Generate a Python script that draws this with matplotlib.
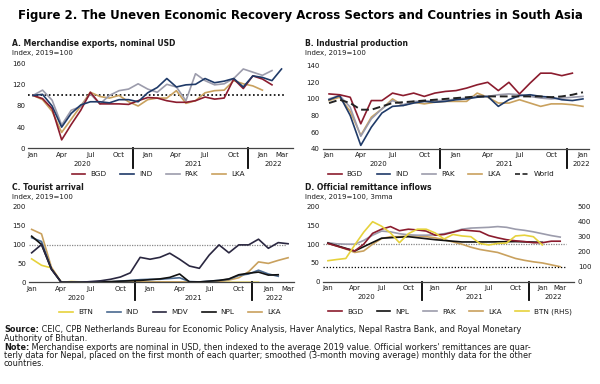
import numpy as np
import matplotlib
matplotlib.use('Agg')
import matplotlib.pyplot as plt
from matplotlib.lines import Line2D

plt.rcParams['font.family'] = 'DejaVu Sans'

# ---------------------------------------------------------------------------
# data, monthly from Jan 2020
# ---------------------------------------------------------------------------
# A. Merchandise exports, nominal USD (Index, 2019=100)
exp_bgd = [100, 94, 75, 16, 45, 72, 106, 84, 84, 84, 83, 90, 96, 95, 90, 87, 87, 90, 97, 93,
           95, 131, 113, 137, 131, 120]
exp_ind = [100, 102, 80, 40, 66, 82, 88, 88, 86, 92, 92, 88, 105, 115, 132, 116, 120, 121, 132, 124,
           127, 132, 116, 137, 134, 128, 150]
exp_pak = [100, 110, 91, 44, 72, 79, 103, 84, 100, 109, 112, 122, 112, 106, 121, 116, 90, 141, 128, 120,
           122, 132, 150, 144, 138, 147]
exp_lka = [100, 92, 70, 30, 55, 80, 106, 98, 95, 100, 88, 80, 92, 95, 95, 109, 85, 90, 105, 109,
           110, 128, 122, 118, 110]

# B. Industrial production (Index, 2019=100)
ip_bgd = [106, 105, 102, 70, 98, 98, 107, 104, 107, 103, 107, 109, 110, 113, 117, 120, 110, 120, 106, 119,
          131, 131, 128, 131]
ip_ind = [99, 104, 80, 44, 66, 83, 91, 92, 95, 97, 96, 97, 99, 100, 102, 103, 91, 99, 104, 105,
          103, 102, 99, 98, 100]
ip_pak = [100, 104, 90, 55, 76, 88, 98, 93, 97, 97, 98, 98, 100, 101, 103, 103, 105, 106, 105, 103,
          101, 100, 101, 102, 103]
ip_lka = [98, 102, 85, 56, 78, 88, 100, 92, 96, 94, 96, 97, 97, 97, 107, 102, 95, 95, 99, 95,
          91, 94, 94, 93, 91]
ip_world = [95, 99, 95, 87, 87, 91, 95, 96, 97, 98, 99, 100, 101, 102, 103, 103, 103, 103, 103, 103,
            103, 102, 103, 105, 108]

# C. Tourist arrival (Index, 2019=100)
tour_btn = [62, 45, 38, 0, 2, 1, 0, 0, 0, 0, 0, 0, 0, 0, 0, 0, 0, 0, 0, 0,
            0, 0, 0, 0]
tour_ind = [118, 108, 35, 0, 0, 0, 0, 1, 1, 3, 5, 7, 8, 8, 10, 12, 2, 1, 3, 5,
            8, 18, 22, 32, 22, 16]
tour_mdv = [78, 100, 35, 0, 0, 0, 2, 4, 8, 14, 25, 66, 61, 66, 77, 61, 43, 37, 72, 99,
            78, 99, 99, 114, 90, 105, 102]
tour_npl = [122, 100, 35, 0, 0, 0, 0, 1, 2, 3, 4, 5, 7, 9, 13, 22, 1, 1, 3, 5,
            9, 20, 24, 27, 19, 20]
tour_lka = [140, 128, 40, 0, 0, 0, 0, 0, 0, 0, 0, 1, 1, 1, 1, 1, 1, 1, 1, 2,
            6, 12, 28, 54, 50, 58, 65]

# D. Official remittance inflows (Index, 2019=100, 3mma)
rem_bgd = [102, 95, 88, 82, 100, 129, 140, 147, 136, 140, 138, 135, 124, 126, 132, 138, 136, 134, 123, 117,
           112, 109, 107, 104, 104, 108, 108]
rem_npl_month = [0, 3, 6, 9, 12, 15, 18, 21, 24]   # quarterly, first month of quarter
rem_npl = [103, 82, 116, 120, 112, 106, 106, 107, 105]
rem_pak = [104, 101, 100, 100, 110, 124, 135, 133, 128, 125, 124, 124, 125, 128, 133, 140, 143, 144, 145, 147,
           145, 140, 137, 133, 128, 123, 119]
rem_lka = [102, 95, 87, 78, 82, 100, 115, 120, 120, 122, 122, 120, 117, 112, 106, 100, 92, 86, 82, 78,
           70, 62, 57, 53, 50, 45, 40]
rem_btn = [140, 148, 155, 245, 330, 400, 370, 325, 260, 320, 350, 350, 325, 285, 315, 305, 300, 255, 245, 255,
           258, 305, 310, 300, 245]   # RHS

month_lbl = ['Jan', 'Apr', 'Jul', 'Oct'] * 3

# colours
C_BGD = '#8B1C2E'
C_IND = '#1F3A68'
C_PAK = '#9C9CAC'
C_LKA = '#C9A15E'
C_BTN = '#E6D23C'
C_MDV = '#2A2740'
C_NPL = '#111111'
C_IND_T = '#4A6A90'
TXT = '#1a1a1a'

LW = 1.2
W, H = 600., 384.

fig = plt.figure(figsize=(6.0, 3.84), dpi=100)
fig.patch.set_facecolor('white')


def px_axes(l, t, r, b):
    return fig.add_axes([l / W, 1 - b / H, (r - l) / W, (b - t) / H])


def style(ax, xlim, ylim, yticks, xticks, xlabels, years, seps, sep_len):
    ax.set_xlim(*xlim)
    ax.set_ylim(*ylim)
    for s in ['top', 'left', 'right']:
        ax.spines[s].set_visible(False)
    ax.spines['bottom'].set_color('#444444')
    ax.spines['bottom'].set_linewidth(0.9)
    ax.set_yticks(yticks)
    ax.set_xticks(xticks)
    ax.set_xticklabels(xlabels)
    ax.tick_params(axis='both', length=0, labelsize=5, colors=TXT, pad=2)
    ax.tick_params(axis='x', pad=2.5)
    ax.patch.set_alpha(0)
    for yx, yl in years:
        ax.annotate(yl, xy=(yx, 0), xycoords=('data', 'axes fraction'),
                    xytext=(0, -11), textcoords='offset points',
                    ha='center', va='center', fontsize=5, color=TXT)
    for sx in seps:
        ax.axvline(sx, ymin=-sep_len, ymax=0, color='black', lw=1.3, clip_on=False)


def panel_title(x, y, title, sub):
    fig.text(x / W, 1 - y / H, title, fontsize=5.5, fontweight='bold', color=TXT, va='center')
    fig.text(x / W, 1 - (y + 10.5) / H, sub, fontsize=5, color=TXT, va='center')


def legend(ax, items, cx, cy):
    handles = [Line2D([0], [0], color=c, lw=LW, ls=ls) for _, c, ls in items]
    labels = [n for n, _, _ in items]
    ax.legend(handles, labels, loc='center', bbox_to_anchor=(cx / W, 1 - cy / H),
              bbox_transform=fig.transFigure, ncol=len(items), frameon=False,
              fontsize=5.2, handlelength=1.9, handletextpad=0.7, columnspacing=1.9,
              labelcolor=TXT)


# title
fig.text(0.5, 1 - 15 / H, 'Figure 2. The Uneven Economic Recovery Across Sectors and Countries in South Asia',
         ha='center', va='center', fontsize=8.5, fontweight='bold', color='black')

# ---------------------------------------------------------------- panel A
axA = px_axes(28.2, 63.7, 293, 148.3)
axA.plot(np.arange(len(exp_lka)), exp_lka, color=C_LKA, lw=LW)
axA.plot(np.arange(len(exp_pak)), exp_pak, color=C_PAK, lw=LW)
axA.plot(np.arange(len(exp_bgd)), exp_bgd, color=C_BGD, lw=LW)
axA.plot(np.arange(len(exp_ind)), exp_ind, color=C_IND, lw=LW)
axA.axhline(100, xmax=0.97, color='black', lw=1.2, ls=(0, (1, 1.5)), zorder=0)
style(axA, (-0.5, 27.2), (0, 160), [0, 40, 80, 120, 160],
      [0, 3, 6, 9, 12, 15, 18, 21, 24, 26], month_lbl[:9] + ['Mar'],
      [(5.2, '2020'), (16.8, '2021'), (25.1, '2022')], [10.5, 22.5], 0.23)
panel_title(12, 43, 'A. Merchandise exports, nominal USD', 'Index, 2019=100')
legend(axA, [('BGD', C_BGD, '-'), ('IND', C_IND, '-'), ('PAK', C_PAK, '-'), ('LKA', C_LKA, '-')], 158, 174)

# ---------------------------------------------------------------- panel B
axB = px_axes(322.7, 65.7, 589.3, 148.7)
axB.plot(np.arange(len(ip_lka)), ip_lka, color=C_LKA, lw=LW)
axB.plot(np.arange(len(ip_pak)), ip_pak, color=C_PAK, lw=LW)
axB.plot(np.arange(len(ip_ind)), ip_ind, color=C_IND, lw=LW)
axB.plot(np.arange(len(ip_bgd)), ip_bgd, color=C_BGD, lw=LW)
axB.plot(np.arange(len(ip_world)), ip_world, color='#222222', lw=1.4, ls=(0, (4, 2)))
style(axB, (-0.6, 24.6), (40, 140), [40, 60, 80, 100, 120, 140],
      [0, 3, 6, 9, 12, 15, 18, 21, 24], month_lbl[:9],
      [(4.7, '2020'), (16.6, '2021'), (23.8, '2022')], [10.5, 22.5], 0.23)
panel_title(305, 43, 'B. Industrial production', 'Index, 2019=100')
legend(axB, [('BGD', C_BGD, '-'), ('IND', C_IND, '-'), ('PAK', C_PAK, '-'), ('LKA', C_LKA, '-'),
             ('World', '#222222', (0, (3, 1.5)))], 441, 174)

# ---------------------------------------------------------------- panel C
axC = px_axes(28.7, 206.7, 294, 282.3)
axC.axhline(100, xmax=0.97, color='#888888', lw=0.9, ls=(0, (1, 1)), zorder=0)
axC.plot(np.arange(len(tour_btn)), tour_btn, color=C_BTN, lw=LW)
axC.plot(np.arange(len(tour_lka)), tour_lka, color=C_LKA, lw=LW)
axC.plot(np.arange(len(tour_ind)), tour_ind, color=C_IND_T, lw=LW)
axC.plot(np.arange(len(tour_npl)), tour_npl, color=C_NPL, lw=LW)
axC.plot(np.arange(len(tour_mdv)), tour_mdv, color=C_MDV, lw=LW)
style(axC, (-0.3, 26.6), (0, 200), [0, 50, 100, 150, 200],
      [0, 3, 6, 9, 12, 15, 18, 21, 24, 26], month_lbl[:9] + ['Mar'],
      [(4.5, '2020'), (16.4, '2021'), (24.6, '2022')], [10.5, 22.3], 0.24)
panel_title(12, 187, 'C. Tourist arrival', 'Index, 2019=100')
legend(axC, [('BTN', C_BTN, '-'), ('IND', C_IND_T, '-'), ('MDV', C_MDV, '-'), ('NPL', C_NPL, '-'),
             ('LKA', C_LKA, '-')], 170, 312)

# ---------------------------------------------------------------- panel D
axD = px_axes(322.6, 206.7, 573.6, 281.7)
axD.axhline(100, xmax=0.97, color='#888888', lw=0.9, ls=(0, (1, 1)), zorder=0)
axD.plot(np.arange(len(rem_lka)), rem_lka, color=C_LKA, lw=LW)
axD.plot(np.arange(len(rem_pak)), rem_pak, color=C_PAK, lw=LW)
axD.plot(rem_npl_month, rem_npl, color=C_NPL, lw=LW)
axD.plot(np.arange(len(rem_bgd)), rem_bgd, color=C_BGD, lw=LW)
style(axD, (-0.6, 27.5), (0, 200), [0, 50, 100, 150, 200],
      [0, 3, 6, 9, 12, 15, 18, 21, 24, 26], month_lbl[:9] + ['Mar'],
      [(4.3, '2020'), (16.4, '2021'), (25.2, '2022')], [10.5, 22.5], 0.24)
axD2 = axD.twinx()
axD2.set_ylim(0, 500)
axD2.set_yticks([0, 100, 200, 300, 400, 500])
axD2.tick_params(axis='y', length=0, labelsize=5, colors=TXT, pad=3)
for s in ['top', 'left', 'right', 'bottom']:
    axD2.spines[s].set_visible(False)
axD2.axhline(100, xmax=0.97, color='black', lw=0.9, ls=(0, (1, 1.5)), zorder=0)
axD2.plot(np.arange(len(rem_btn)), rem_btn, color=C_BTN, lw=LW)
panel_title(305, 187, 'D. Official remittance inflows', 'Index, 2019=100, 3mma')
legend(axD, [('BGD', C_BGD, '-'), ('NPL', C_NPL, '-'), ('PAK', C_PAK, '-'), ('LKA', C_LKA, '-'),
             ('BTN (RHS)', C_BTN, '-')], 450, 312)

# ---------------------------------------------------------------- notes
FN = 5.9
renderer = fig.canvas.get_renderer()


def note_line(y, bold, rest):
    x = 4
    if bold:
        t = fig.text(x / W, 1 - y / H, bold, fontsize=FN, fontweight='bold', color=TXT, va='center')
        x = t.get_window_extent(renderer).x1
    fig.text(x / W, 1 - y / H, rest, fontsize=FN, color=TXT, va='center')


note_line(330, 'Source:', ' CEIC, CPB Netherlands Bureau for Economic Policy Analysis, Haver Analytics, '
                           'Nepal Rastra Bank, and Royal Monetary')
note_line(338.5, '', 'Authority of Bhutan.')
note_line(347, 'Note:', ' Merchandise exports are nominal in USD, then indexed to the average 2019 value. '
                        "Official workers' remittances are quar-")
note_line(355.5, '', 'terly data for Nepal, placed on the first month of each quarter; smoothed (3-month '
                     'moving average) monthly data for the other')
note_line(364, '', 'countries.')

fig.savefig('out.png', dpi=100, facecolor='white')
